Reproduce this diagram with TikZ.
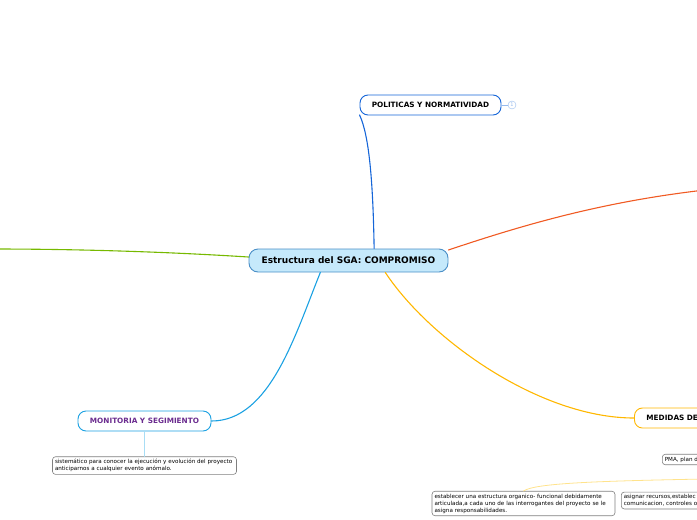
\documentclass[tikz,border=0pt]{standalone}
\usepackage{fontspec}
\setmainfont{DejaVu Sans}
\usetikzlibrary{positioning}
\definecolor{sgafill}{HTML}{C5E9FB}
\definecolor{sgaline}{HTML}{4A8FC7}
\definecolor{polblue}{HTML}{1565D8}
\definecolor{orred}{HTML}{F05A23}
\definecolor{leafgreen}{HTML}{76B900}
\definecolor{monicyan}{HTML}{1BA1E2}
\definecolor{monipurple}{HTML}{6B2C8F}
\definecolor{medyellow}{HTML}{FFB700}
\definecolor{paleyellow}{HTML}{FFE38C}
\definecolor{paleblue}{HTML}{A8DDF5}
\definecolor{notegray}{HTML}{7F7F7F}
\begin{document}
\begin{tikzpicture}[x=1pt,y=-1pt,line join=round,line cap=round,
  topic/.style={draw,rounded corners=8pt,fill=white,line width=0.9pt,minimum height=20pt,font=\bfseries\fontsize{7.3}{8}\selectfont},
  note/.style={draw=notegray,rounded corners=3pt,fill=white,line width=0.6pt,align=left,inner sep=2.5pt,font=\fontsize{5.6}{7}\selectfont},
  branch/.style={line width=1.1pt}]
\def \xmax{697};
\def \ymax{520};
\useasboundingbox (0,0) rectangle (\xmax,\ymax);
\clip (0,0) rectangle (\xmax,\ymax);
\node[draw=sgaline,fill=sgafill,rounded corners=9pt,line width=0.9pt,minimum width=199pt,minimum height=23pt,font=\bfseries\fontsize{9}{10}\selectfont] (sga) at (348.5,260.5) {Estructura del SGA: COMPROMISO};
\node[topic,draw=polblue,minimum width=141pt] (pol) at (430.5,105) {POLITICAS Y NORMATIVIDAD};
\node[circle,draw=polblue!45,inner sep=0pt,minimum size=8pt,text=polblue!45,font=\fontsize{5}{5}\selectfont] (polnum) at (512,105) {1};
\node[topic,draw=monicyan,text=monipurple,minimum width=133pt] (moni) at (144.5,421) {MONITORIA Y SEGIMIENTO};
\node[note,text width=179pt,below=25pt of moni] (moninote) {sistemático para conocer la ejecución y evolución del proyecto\\anticiparnos a cualquier evento anómalo.};
\node[topic,draw=medyellow,anchor=west,text width=100pt,align=left,inner xsep=12pt] (med) at (634,418) {MEDIDAS DE};
\node[note,anchor=west,text width=60pt] (pma) at (662,459.5) {PMA, plan d};
\node[note,text width=178pt] (est) at (523.5,503.5) {establecer una estructura organico- funcional debidamente\\articulada,a cada uno de las interrogantes del proyecto se le\\asigna responsabilidades.};
\node[note,anchor=west,text width=100pt] (asig) at (621,500.5) {asignar recursos,establec\\comunicacion, controles o};
\coordinate (eastend) at (705,190);
\coordinate (westend) at (-8,249);
\coordinate (lowend) at (705,479);
\draw[branch,polblue] (sga.25) .. controls (373,180) and (369,135) .. (pol.188);
\draw[line width=0.6pt,polblue!45] (pol.east) -- (polnum.west);
\draw[branch,orred] (sga.6) .. controls (520,226) and (600,202) .. (eastend);
\draw[branch,leafgreen] (sga.178) .. controls (170,252) and (80,249) .. (westend);
\draw[branch,monicyan] (sga.203) .. controls (295,335) and (270,421) .. (moni.east);
\draw[branch,medyellow] (sga.342) .. controls (430,340) and (540,418) .. (med.west);
\draw[line width=0.8pt,paleblue] (moni.south) -- (moninote.north);
\draw[line width=0.8pt,paleyellow] (est.north) .. controls (535,483) and (600,481) .. (lowend);
\end{tikzpicture}
\end{document}
